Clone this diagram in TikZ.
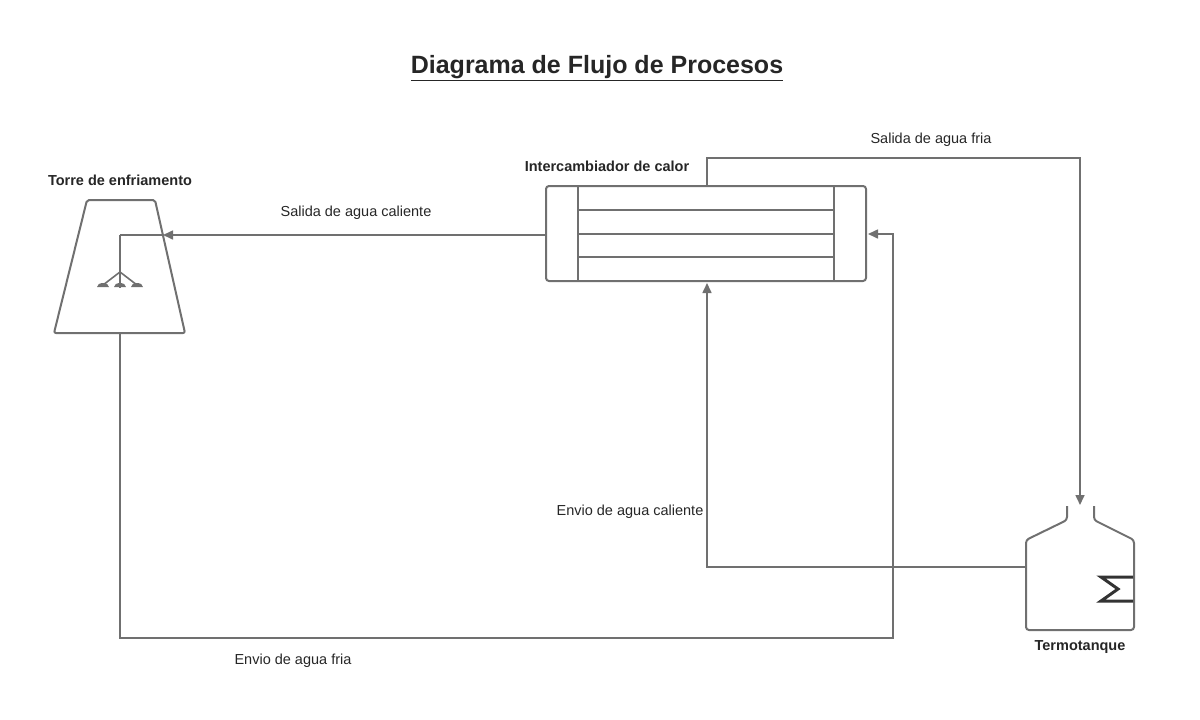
\documentclass[tikz,border=0pt]{standalone}
\usepackage{fontspec}
\setmainfont{Liberation Sans}
\usetikzlibrary{arrows.meta}
\begin{document}
\begin{tikzpicture}[x=1pt,y=-1pt,
  ln/.style={draw=gray!40!black!70, line width=2pt, line join=round},
  pipe/.style={draw=gray!40!black!70, line width=1.6pt, -{Triangle[length=10pt,width=9pt]}},
  lab/.style={font=\fontsize{14.5}{16}\selectfont, text=black!85},
  blab/.style={font=\fontsize{14.5}{16}\selectfont\bfseries, text=black!85}]
\useasboundingbox (0,0) rectangle (1200,720);
\node[font=\fontsize{25}{28}\selectfont\bfseries, text=black!85] (title) at (597,68) {\underline{Diagrama de Flujo de Procesos}};
% cooling tower
\draw[ln, rounded corners=2pt] (87,200) -- (155,200) -- (185,333) -- (54,333) -- cycle;
\coordinate (twin) at (163,235);
\coordinate (twout) at (120,333);
\draw[ln,line width=1.6pt] (120,235) -- (120,288);
\draw[ln,line width=1.6pt] (103,285) -- (120,272) -- (137,285);
\foreach \xx in {103,120,137} \fill[gray!40!black!70] (\xx-6,287) arc (180:360:6 and 4) -- cycle;
\node[blab] (tlab) at (120,180) {Torre de enfriamento};
% heat exchanger
\draw[ln, rounded corners=3pt] (546,186) rectangle (866,281);
\node[minimum width=320pt, minimum height=95pt] (hx) at (706,233.5) {};
\draw[ln] (578,186) -- (578,281) (834,186) -- (834,281);
\draw[ln] (578,210) -- (834,210) (578,234) -- (834,234) (578,257) -- (834,257);
\node[blab] (hlab) at (607,166) {Intercambiador de calor};
% tank
\draw[ln, rounded corners=3pt] (1067,506) -- (1067,520) -- (1026,540) -- (1026,630) -- (1134,630) -- (1134,540) -- (1094,520) -- (1094,506);
\draw[line width=3pt, black!80] (1133,577) -- (1101,577) -- (1118,589) -- (1101,601) -- (1133,601);
\node[blab] (tklab) at (1080,647) {Termotanque};
\coordinate (tkin) at (1080,505);
\coordinate (tkleft) at (1026,567);
% pipes
\draw[pipe] (hx.west |- 0,235) -- (twin);
\draw[pipe] (707,186) -- (707,158) -- (1080,158) -- (tkin);
\draw[pipe] (tkleft) -- (707,567) -- (707,283);
\draw[pipe] (twout) -- (120,638) -- (893,638) -- (893,234) -- (868,234);
\draw[ln,line width=1.6pt] (twin) -- (120,235);
% labels
\node[lab] (l1) at (356,213) {Salida de agua caliente};
\node[lab] (l2) at (931,140) {Salida de agua fria};
\node[lab] (l3) at (630,512) {Envio de agua caliente};
\node[lab] (l4) at (293,661) {Envio de agua fria};
\end{tikzpicture}
\end{document}
